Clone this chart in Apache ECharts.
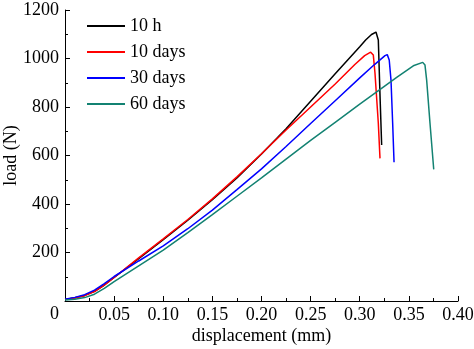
<!DOCTYPE html>
<html>
<head>
<meta charset="utf-8">
<script src="https://cdn.jsdelivr.net/npm/echarts@6/dist/echarts.min.js"></script>
<style>html,body{margin:0;padding:0;background:#fff}#c{width:474px;height:349px}</style>
</head>
<body>
<div id="c"></div>
<script>
var seriesNames = ['10 h', '10 days', '30 days', '60 days'];
var seriesColors = ['#000000', '#ff0000', '#0000ff', '#138272'];
var xTicks = [0, 0.05, 0.10, 0.15, 0.20, 0.25, 0.30, 0.35, 0.40];
var yTicks = [0, 200, 400, 600, 800, 1000, 1200];

var data10h = [[0,6],[0.01,13],[0.02,23],[0.03,40],[0.04,66],[0.05,97],[0.075,175],[0.1,253],[0.125,333],[0.15,418],[0.175,507],[0.2,606],[0.225,710],[0.25,824],[0.275,937],[0.3,1048],[0.306,1076],[0.312,1099],[0.3165,1109],[0.3189,1076],[0.3206,850],[0.3223,643]];
var data10d = [[0,6],[0.01,12],[0.02,22],[0.03,39],[0.04,65],[0.05,97],[0.075,178],[0.1,256],[0.125,336],[0.15,421],[0.175,512],[0.2,607],[0.225,705],[0.25,800],[0.275,895],[0.295,975],[0.305,1012],[0.3111,1026],[0.3138,1014],[0.3155,940],[0.3189,733],[0.3206,588]];
var data30d = [[0,7],[0.01,15],[0.02,26],[0.03,45],[0.04,72],[0.05,101],[0.075,165],[0.1,227],[0.125,298],[0.15,375],[0.175,459],[0.2,545],[0.225,637],[0.25,732],[0.275,826],[0.3,920],[0.315,975],[0.3257,1012],[0.328,1016],[0.33,994],[0.3318,911],[0.3335,733],[0.3349,572]];
var data60d = [[0,4],[0.01,7],[0.02,14],[0.03,28],[0.04,52],[0.05,80],[0.075,145],[0.1,210],[0.125,282],[0.15,356],[0.175,432],[0.2,508],[0.225,585],[0.25,662],[0.275,737],[0.3,812],[0.325,885],[0.3376,922],[0.3545,970],[0.3641,984],[0.3664,973],[0.3681,911],[0.3715,733],[0.3753,543]];

var allData = [data10h, data10d, data30d, data60d];
var FONT = 'Liberation Serif';

var chart = echarts.init(document.getElementById('c'));
chart.setOption({
  animation: false,
  backgroundColor: '#fff',
  grid: { left: 65, right: 16, top: 10, bottom: 48, containLabel: false, outerBoundsMode: 'none' },
  legend: {
    orient: 'vertical',
    left: 87, top: 17, padding: 0,
    itemWidth: 38, itemHeight: 2, itemGap: 8,
    icon: 'rect',
    textStyle: { fontFamily: FONT, fontSize: 18, color: '#000' },
    data: seriesNames
  },
  xAxis: {
    type: 'value', min: xTicks[0], max: xTicks[xTicks.length-1], interval: 0.05,
    name: 'displacement (mm)', nameLocation: 'middle', nameGap: 26, nameMoveOverlap: false,
    nameTextStyle: { fontFamily: FONT, fontSize: 18, color: '#000' },
    axisLine: { show: true, onZero: false, lineStyle: { color: '#000', width: 1 } },
    axisTick: { show: true, inside: true, length: 5, lineStyle: { color: '#000' } },
    minorTick: { show: true, splitNumber: 2, length: 3, lineStyle: { color: '#000' } },
    splitLine: { show: false },
    axisLabel: { fontFamily: FONT, fontSize: 18, color: '#000', margin: 5,
      formatter: function (v) { return v === 0 ? '' : v.toFixed(2); } }
  },
  yAxis: {
    type: 'value', min: yTicks[0], max: yTicks[yTicks.length-1], interval: 200,
    name: 'load (N)', nameLocation: 'middle', nameGap: 45, nameMoveOverlap: false,
    nameTextStyle: { fontFamily: FONT, fontSize: 18, color: '#000' },
    axisLine: { show: true, lineStyle: { color: '#000', width: 1 } },
    axisTick: { show: true, inside: true, length: 5, lineStyle: { color: '#000' } },
    minorTick: { show: true, splitNumber: 2, length: 3, lineStyle: { color: '#000' } },
    splitLine: { show: false },
    axisLabel: { fontFamily: FONT, fontSize: 18, color: '#000', margin: 6,
      formatter: function (v) { return v === 0 ? '' : String(v); } }
  },
  graphic: [{
    type: 'text', left: 50, top: 305,
    style: { text: '0', fontFamily: FONT, fontSize: 18, fill: '#000' }
  }],
  series: seriesNames.map(function (n, i) {
    return {
      name: n, type: 'line', data: allData[i], showSymbol: false, symbol: 'none',
      color: seriesColors[i],
      lineStyle: { color: seriesColors[i], width: 1.5 }
    };
  })
});
</script>
</body>
</html>
